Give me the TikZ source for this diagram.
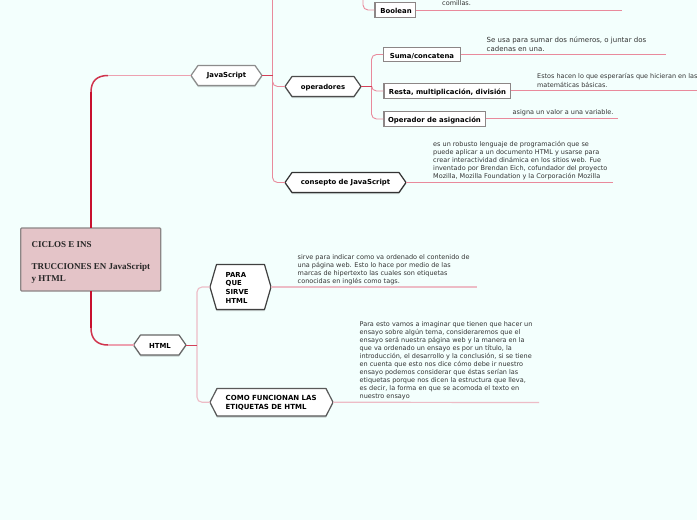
\documentclass[tikz,border=0pt]{standalone}
\usepackage{fontspec}
\setmainfont{DejaVu Sans}
\newfontfamily\rootfont{Liberation Serif}
\usetikzlibrary{calc}
\definecolor{bgc}{HTML}{F3FFFD}
\definecolor{rootfill}{HTML}{E4C4C8}
\definecolor{rootedge}{HTML}{8C8686}
\definecolor{crim}{HTML}{C8102E}
\definecolor{linkc}{HTML}{E98A9C}
\definecolor{palec}{HTML}{EDBCC6}
\definecolor{txtc}{HTML}{333333}
\tikzset{
  x=1pt,y=-1pt,
  thick crim/.style={draw=crim,line width=2.3pt},
  curve crim/.style={draw=crim!85!white,line width=1.5pt},
  darklink/.style={draw=crim!80!white,line width=1pt},
  link/.style={draw=linkc,line width=0.9pt,rounded corners=5pt},
  palelink/.style={draw=palec,line width=1.1pt,rounded corners=5pt},
  underl/.style={draw=linkc,line width=0.9pt},
  paleunder/.style={draw=palec,line width=1.2pt},
  hexbox/.style={rectangle,inner sep=0pt,outer sep=0pt},
  hexline/.style={fill=white,line width=1.2pt,line join=round},
  boxn/.style={rectangle,draw=rootedge,line width=1.2pt,fill=white,inner sep=0pt,outer sep=0.6pt},
  lab/.style={font=\fontsize{6.9}{8.7}\selectfont\bfseries,text=black,inner sep=0pt},
  note/.style={font=\fontsize{6.5}{8}\selectfont,text=txtc,inner sep=0pt,anchor=north west,align=left},
}
% name, x1, y1, x2, y2, chamfer, edge colour
\newcommand{\hexnode}[7]{%
  \node[hexbox,minimum width=#4pt-#2pt,minimum height=#5pt-#3pt] (#1) at ({(#2+#4)/2},{(#3+#5)/2}) {};
  \fill[black,opacity=0.18] ($(#1.west)+(0,1.5)$) -- ($(#1.north west)+(#6,1.5)$) -- ($(#1.north east)+(-#6,1.5)$) -- ($(#1.east)+(0,1.5)$) -- ($(#1.south east)+(-#6,1.5)$) -- ($(#1.south west)+(#6,1.5)$) -- cycle;
  \draw[hexline,draw=#7] (#1.west) -- ($(#1.north west)+(#6,0)$) -- ($(#1.north east)+(-#6,0)$) -- (#1.east) -- ($(#1.south east)+(-#6,0)$) -- ($(#1.south west)+(#6,0)$) -- cycle;
}
\begin{document}
\begin{tikzpicture}
\useasboundingbox (0,0) rectangle (697,520);
\fill[bgc] (0,0) rectangle (697,520);

% free connector points
\coordinate (top1) at (272.5,0);
\coordinate (j1) at (272.5,75.5);
\coordinate (j2) at (371.5,86.5);
\coordinate (j3) at (197,345);
\coordinate (top2) at (363,0);
\coordinate (rootup) at (91,228);
\coordinate (rootdown) at (91,291);
\coordinate (rc1) at (108,75.5);
\coordinate (rc2) at (108,345);
\coordinate (e1) at (622,10);
\coordinate (e2) at (666,54.5);
\coordinate (e3) at (697,90.5);
\coordinate (e4) at (618,118.5);
\coordinate (e5) at (613,182.5);
\coordinate (e6) at (477,287);
\coordinate (e7) at (539,402.5);

% nodes
\node[rectangle,draw=rootedge,line width=1.3pt,fill=rootfill,rounded corners=1pt,minimum width=140pt,minimum height=63pt,inner sep=0pt,outer sep=0pt] (root) at (90.75,259.5) {};
\hexnode{js}{191}{65.5}{262}{85.5}{7}{gray!90}
\hexnode{op}{285}{76.5}{361}{96.5}{7}{black!70}
\hexnode{cons}{285}{172.5}{406}{192.5}{7}{black!80}
\hexnode{html}{133.5}{335}{186}{355}{7}{black!60}
\hexnode{para}{210}{264.5}{271}{309.5}{6.5}{black!75}
\hexnode{como}{210}{388.5}{333}{416}{7}{black!65}
\node[boxn,minimum width=40.5pt,minimum height=14.5pt] (bool) at (395.25,10) {};
\node[boxn,minimum width=76.5pt,minimum height=14.5pt] (suma) at (422,54.5) {};
\node[boxn,minimum width=126.5pt,minimum height=14.5pt] (resta) at (447.25,91) {};
\node[boxn,minimum width=101.5pt,minimum height=14.5pt] (asig) at (434.75,119) {};

% connectors
\draw[thick crim] (rootup) -- (91,92);
\draw[thick crim] (rootdown) -- (91,328);
\draw[curve crim] (91,92) .. controls (91,81) and (97,75.5) .. (rc1);
\draw[curve crim] (91,328) .. controls (91,339) and (97,345) .. (rc2);
\draw[palelink,draw=linkc!80!white] (rc1) -- (js.west);
\draw[palelink,draw=linkc!80!white] (rc2) -- (html.west);
\draw[link] (top1) |- (op.west);
\draw[link] (top1) |- (cons.west);
\draw[darklink] (js.east) -- (j1);
\draw[link] (top2) |- (bool.west);
\draw[link] (j2) |- (suma.west);
\draw[link] (j2) |- (resta.west);
\draw[link] (j2) |- (asig.west);
\draw[darklink] (op.east) -- (j2);
\draw[palelink] (j3) |- (para.west);
\draw[palelink] (j3) |- (como.west);
\draw[darklink] (html.east) -- (j3);
\draw[underl] (bool.east) -- (e1);
\draw[underl] (suma.east) -- (e2);
\draw[underl] (resta.east |- e3) -- (e3);
\draw[underl] (asig.east |- e4) -- (e4);
\draw[underl] (cons.east) -- (e5);
\draw[paleunder] (para.east) -- (e6);
\draw[paleunder] (como.east) -- (e7);

% labels
\node[inner sep=0pt,anchor=north west,align=left,text=black!85,font=\rootfont\fontsize{9}{12}\selectfont\bfseries] (roottxt) at (31.5,241) {CICLOS E INS\\[10pt]TRUCCIONES EN JavaScript\\y HTML};
\node[lab] (tjs) at (226.5,76) {JavaScript};
\node[lab] (top) at (323,87.5) {operadores};
\node[lab] (tcons) at (345.5,183) {consepto de JavaScript};
\node[lab] (thtml) at (160,346) {HTML};
\node[lab,anchor=north west,align=left] (tpara) at (225.5,272) {PARA\\QUE\\SIRVE\\HTML};
\node[lab,anchor=north west,align=left,font=\fontsize{7}{9}\selectfont\bfseries] (tcomo) at (225.5,395.5) {COMO FUNCIONAN LAS\\ETIQUETAS DE HTML};
\node[lab] (tbool) at (396,11) {Boolean};
\node[lab] (tsuma) at (422,56) {Suma/concatena};
\node[lab] (tresta) at (447.5,92) {Resta, multiplicación, división};
\node[lab] (tasig) at (434.5,120) {Operador de asignación};

\node[note] (n0) at (442,0) {comillas.};
\node[note,font=\fontsize{7}{9}\selectfont] (n1) at (486.5,36.5) {Se usa para sumar dos números, o juntar dos\\cadenas en una.};
\node[note,font=\fontsize{6.45}{8.5}\selectfont] (n2) at (537,73.5) {Estos hacen lo que esperarías que hicieran en las\\matemáticas básicas.};
\node[note] (n3) at (512.5,109.5) {asigna un valor a una variable.};
\node[note] (n4) at (433,141) {es un robusto lenguaje de programación que se\\puede aplicar a un documento HTML y usarse para\\crear interactividad dinámica en los sitios web. Fue\\inventado por Brendan Eich, cofundador del proyecto\\Mozilla, Mozilla Foundation y la Corporación Mozilla};
\node[note] (n5) at (297.5,254) {sirve para indicar como va ordenado el contenido de\\una página web. Esto lo hace por medio de las\\marcas de hipertexto las cuales son etiquetas\\conocidas en inglés como tags.};
\node[note] (n6) at (359.5,321.5) {Para esto vamos a imaginar que tienen que hacer un\\ensayo sobre algún tema, consideraremos que el\\ensayo será nuestra página web y la manera en la\\que va ordenado un ensayo es por un título, la\\introducción, el desarrollo y la conclusión, si se tiene\\en cuenta que esto nos dice cómo debe ir nuestro\\ensayo podemos considerar que éstas serían las\\etiquetas porque nos dicen la estructura que lleva,\\es decir, la forma en que se acomoda el texto en\\nuestro ensayo};
\end{tikzpicture}
\end{document}
